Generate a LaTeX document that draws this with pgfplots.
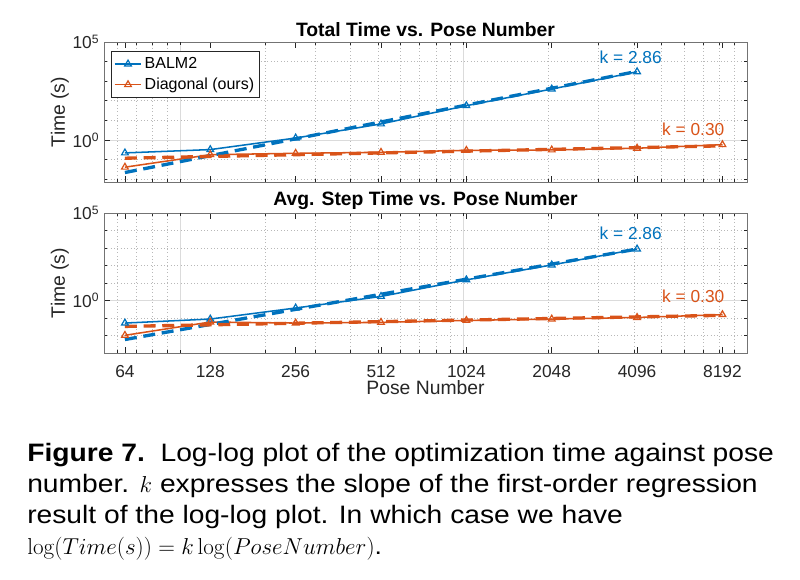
\documentclass[border=0pt]{standalone}
\usepackage[no-math]{fontspec}
\setmainfont{Liberation Sans}
\newfontfamily\capfont[FakeStretch=1.12]{Liberation Sans}
\usepackage{pgfplots}
\pgfplotsset{compat=1.18}

\definecolor{mblue}{rgb}{0,0.447,0.741}
\definecolor{morange}{rgb}{0.851,0.325,0.098}
\definecolor{axgray}{rgb}{0.15,0.15,0.15}
\definecolor{gridmaj}{rgb}{0.86,0.86,0.86}
\definecolor{gridmin}{rgb}{0.72,0.72,0.72}

\tikzset{
  solidb/.style={mblue, line width=1.15pt, mark=triangle, mark size=2.9pt, mark options={solid, line width=0.9pt}},
  solido/.style={morange, line width=1.15pt, mark=triangle, mark size=2.9pt, mark options={solid, line width=0.9pt}},
  fitb/.style={mblue, line width=2.5pt, dash pattern=on 9pt off 5pt},
  fito/.style={morange, line width=2.5pt, dash pattern=on 9pt off 5pt},
}

\pgfplotsset{
 every axis title shift=0pt,
 every axis/.append style={
  scale only axis, width=482.25pt, height=105pt,
  xmin=54, xmax=10000,
  xtick={64,128,256,512,1024,2048,4096,8192},
  xticklabels={64,128,256,512,1024,2048,4096,8192},
  minor xtick={60,70,80,90,200,300,400,500,600,700,800,900,2000,3000,4000,5000,6000,7000,8000,9000},
  extra x ticks={100,1000},
  extra x tick labels={},
  extra x tick style={grid=major, major tick length=2.5pt},
  xmajorgrids=false, xminorgrids=true,
  ytick={1,100000},
  yticklabels={10\textsuperscript{0},10\textsuperscript{5}},
  minor ytick={0.001,0.01,0.1,10,100,1000,10000},
  ymajorgrids=true, yminorgrids=true,
  major grid style={gridmaj, line width=0.5pt},
  minor grid style={gridmin, line width=0.5pt, dotted},
  axis line style={black!55, line width=0.5pt},
  tick style={axgray, line width=0.45pt},
  major tick length=4.5pt, minor tick length=2.5pt,
  tick align=inside,
  ticklabel style={font=\fontsize{13}{15}\selectfont, text=axgray},
  xticklabel style={anchor=north, yshift=-5.5pt},
  yticklabel style={anchor=east},
  ylabel style={at={(axis description cs:-0.0607,0.5)}, anchor=base, font=\fontsize{14.5}{16}\selectfont, text=axgray},
  title style={anchor=base, font=\fontsize{14.5}{16}\selectfont\bfseries},
  legend image code/.code={\draw[mark repeat=2,mark phase=2] plot coordinates {(0cm,0cm) (0.35cm,0cm) (0.7cm,0cm)};},
 }
}

\begin{document}
\begin{tikzpicture}
\useasboundingbox (0,0) rectangle (600pt,435pt);

% ---------- top axis ----------
\begin{axis}[xmode=log, ymode=log,
  at={(78pt,298.5pt)}, anchor=south west,
  ymin=0.0072, ymax=100000,
  xticklabels={},
  ylabel={Time (s)},
  title={Total Time vs. Pose Number},
  title style={at={(axis description cs:0.5,1.04)}},
  legend style={at={(rel axis cs:0.0109,0.935)}, anchor=north west, draw=axgray, line width=0.45pt,
    font=\fontsize{12}{14}\selectfont, text=black, inner xsep=2pt, inner ysep=2.5pt, row sep=1.5pt},
  legend cell align=left,
]
\addplot[solidb] coordinates {(64,0.219) (128,0.324) (256,1.26) (512,6.6) (1024,56.2) (2048,398) (4096,3020)};
\addlegendentry{BALM2}
\addplot[solido] coordinates {(64,0.041) (128,0.178) (256,0.209) (512,0.235) (1024,0.296) (2048,0.31) (4096,0.38) (8192,0.575)};
\addlegendentry{Diagonal (ours)}
\addplot[fitb, forget plot] coordinates {(64,0.0219) (4096,3162)};
\addplot[fito, forget plot] coordinates {(64,0.1175) (8192,0.503)};
\node[mblue, anchor=base, font=\fontsize{13}{15}\selectfont] at (axis cs:3889,8200) {k = 2.86};
\node[morange, anchor=base, font=\fontsize{13}{15}\selectfont] at (axis cs:6463,1.66) {k = 0.30};
\end{axis}

% ---------- bottom axis ----------
\begin{axis}[xmode=log, ymode=log,
  at={(78pt,170.25pt)}, anchor=south west,
  ymin=0.001, ymax=100000,
  ylabel={Time (s)},
  title={Avg. Step Time vs. Pose Number},
  title style={at={(axis description cs:0.5,1.055)}},
  xlabel={Pose Number},
  xlabel style={at={(axis description cs:0.5,-0.30)}, anchor=base, font=\fontsize{14.5}{16}\selectfont, text=axgray},
]
\addplot[solidb] coordinates {(64,0.0513) (128,0.0871) (256,0.372) (512,1.70) (1024,15.1) (2048,107) (4096,871)};
\addplot[solido] coordinates {(64,0.0102) (128,0.0589) (256,0.0513) (512,0.0562) (1024,0.0724) (2048,0.0871) (4096,0.107) (8192,0.155)};
\addplot[fitb, forget plot] coordinates {(64,0.00589) (4096,871)};
\addplot[fito, forget plot] coordinates {(64,0.0331) (8192,0.142)};
\node[mblue, anchor=base, font=\fontsize{13}{15}\selectfont] at (axis cs:3889,3090) {k = 2.86};
\node[morange, anchor=base, font=\fontsize{13}{15}\selectfont] at (axis cs:6463,0.77) {k = 0.30};
\end{axis}

% ---------- caption ----------
\begin{scope}[every node/.style={anchor=base west, inner sep=0pt, font=\capfont\fontsize{18.9}{23}\selectfont}]
\node at (20.25pt,88.5pt) {\textbf{Figure 7.}\ \ Log-log plot of the optimization time against pose};
\node at (20.25pt,65.25pt) {number. $k$ expresses the slope of the first-order regression};
\node at (20.25pt,42pt) {result of the log-log plot. In which case we have};
\node[font=\capfont\fontsize{17.8}{23}\selectfont] at (20.25pt,18.75pt) {$\log(Time(s)) = k\log(PoseNumber)$.};
\end{scope}
\end{tikzpicture}
\end{document}
